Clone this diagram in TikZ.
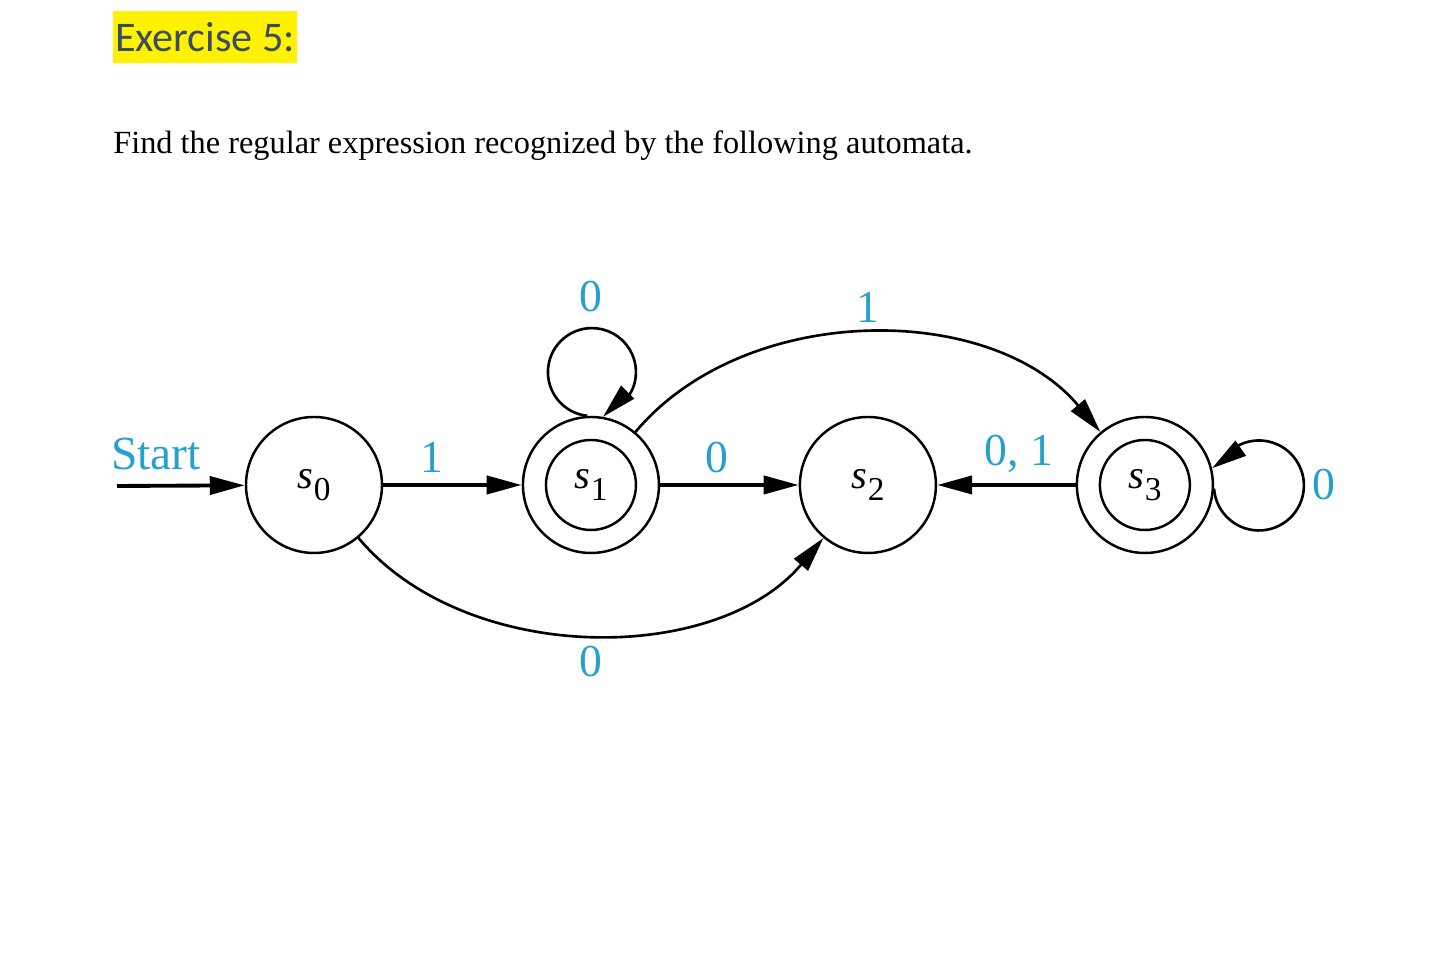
\documentclass[tikz,border=0pt]{standalone}
\usepackage{fontspec}
\setmainfont{Liberation Serif}
\newfontfamily\headfont{Carlito}
\usetikzlibrary{arrows.meta,positioning}
\definecolor{labelblue}{RGB}{40,160,205}
\definecolor{headblue}{RGB}{59,75,99}
\newcommand{\sname}[1]{\textit{s}\kern.5pt\raisebox{-.3em}{\fontsize{19}{19}\selectfont #1}}

\begin{document}
\begin{tikzpicture}[
    state/.style={circle, draw, line width=1.4pt, minimum size=2.72cm, inner sep=0pt, fill=white, font=\fontsize{23}{23}\selectfont},
    ring/.style={circle, draw, line width=1.4pt, minimum size=1.8cm, inner sep=0pt},
    trans/.style={line width=1.5pt, -{Triangle[length=0.7cm, width=0.36cm]}},
    thicktrans/.style={trans, line width=2.2pt},
    lbl/.style={text=labelblue, font=\fontsize{26}{26}\selectfont, inner sep=6pt},
    node distance=2.77cm
  ]

      \useasboundingbox (0, 0) rectangle (28.8, 19.32);

      \node[fill=yellow, text=headblue, font=\headfont\fontsize{24}{24}\selectfont, anchor=base west, inner xsep=1pt, inner ysep=0pt, text height=0.82cm, text depth=0.22cm] (title) at (2.26, 18.28) {Exercise 5:};
      \node[anchor=base west, inner sep=0pt, font=\fontsize{18.4}{18.4}\selectfont] (task) at (2.26, 16.24) {Find the regular expression recognized by the following automata.};

      % states
      \node[state] (s0) at (6.28, 9.62) {\sname{0}};
      \node[state, right=of s0] (s1) {\sname{1}};
      \node[state, right=of s1] (s2) {\sname{2}};
      \node[state, right=of s2] (s3) {\sname{3}};
      \node[ring] (s1ring) at (s1) {};
      \node[ring] (s3ring) at (s3) {};

      \coordinate (start) at (2.34, 9.6);
      \node[lbl, anchor=base west, inner sep=0pt, font=\fontsize{27}{27}\selectfont] (startlbl) at (2.22, 9.92) {Start};

      % straight transitions
      \draw[thicktrans] (start) -- (s0);
      \draw[thicktrans] (s0) -- node[lbl, above, pos=.35] (l01) {1} (s1);
      \draw[thicktrans] (s1) -- node[lbl, above, pos=.41] (l12) {0} (s2);
      \draw[thicktrans] (s3) -- node[lbl, above, pos=.41] (l32) {0, 1} (s2);

      % curved transitions
      \draw[trans] (s1.50) to[out=50, in=130, looseness=.94] node[lbl, above] (l13) {1} (s3.130);
      \draw[trans] (s0.-50) to[out=-50, in=-130, looseness=.92] node[lbl, below] (l02) {0} (s2.-130);

      % loops
      \draw[trans] (s1.93) arc[start angle=264, end angle=-18, radius=0.88cm] to[out=-108, in=45] (s1.80);
      \node[lbl, inner sep=0pt] (l11) at ([yshift=2.38cm]s1.north) {0};
      \draw[trans] (s3.-3) arc[start angle=184, end angle=468, radius=0.9cm] to[out=198, in=35] (s3.14);
      \node[lbl, inner sep=0pt] (l33) at ([xshift=3.58cm]s3.center) {0};

\end{tikzpicture}
\end{document}
